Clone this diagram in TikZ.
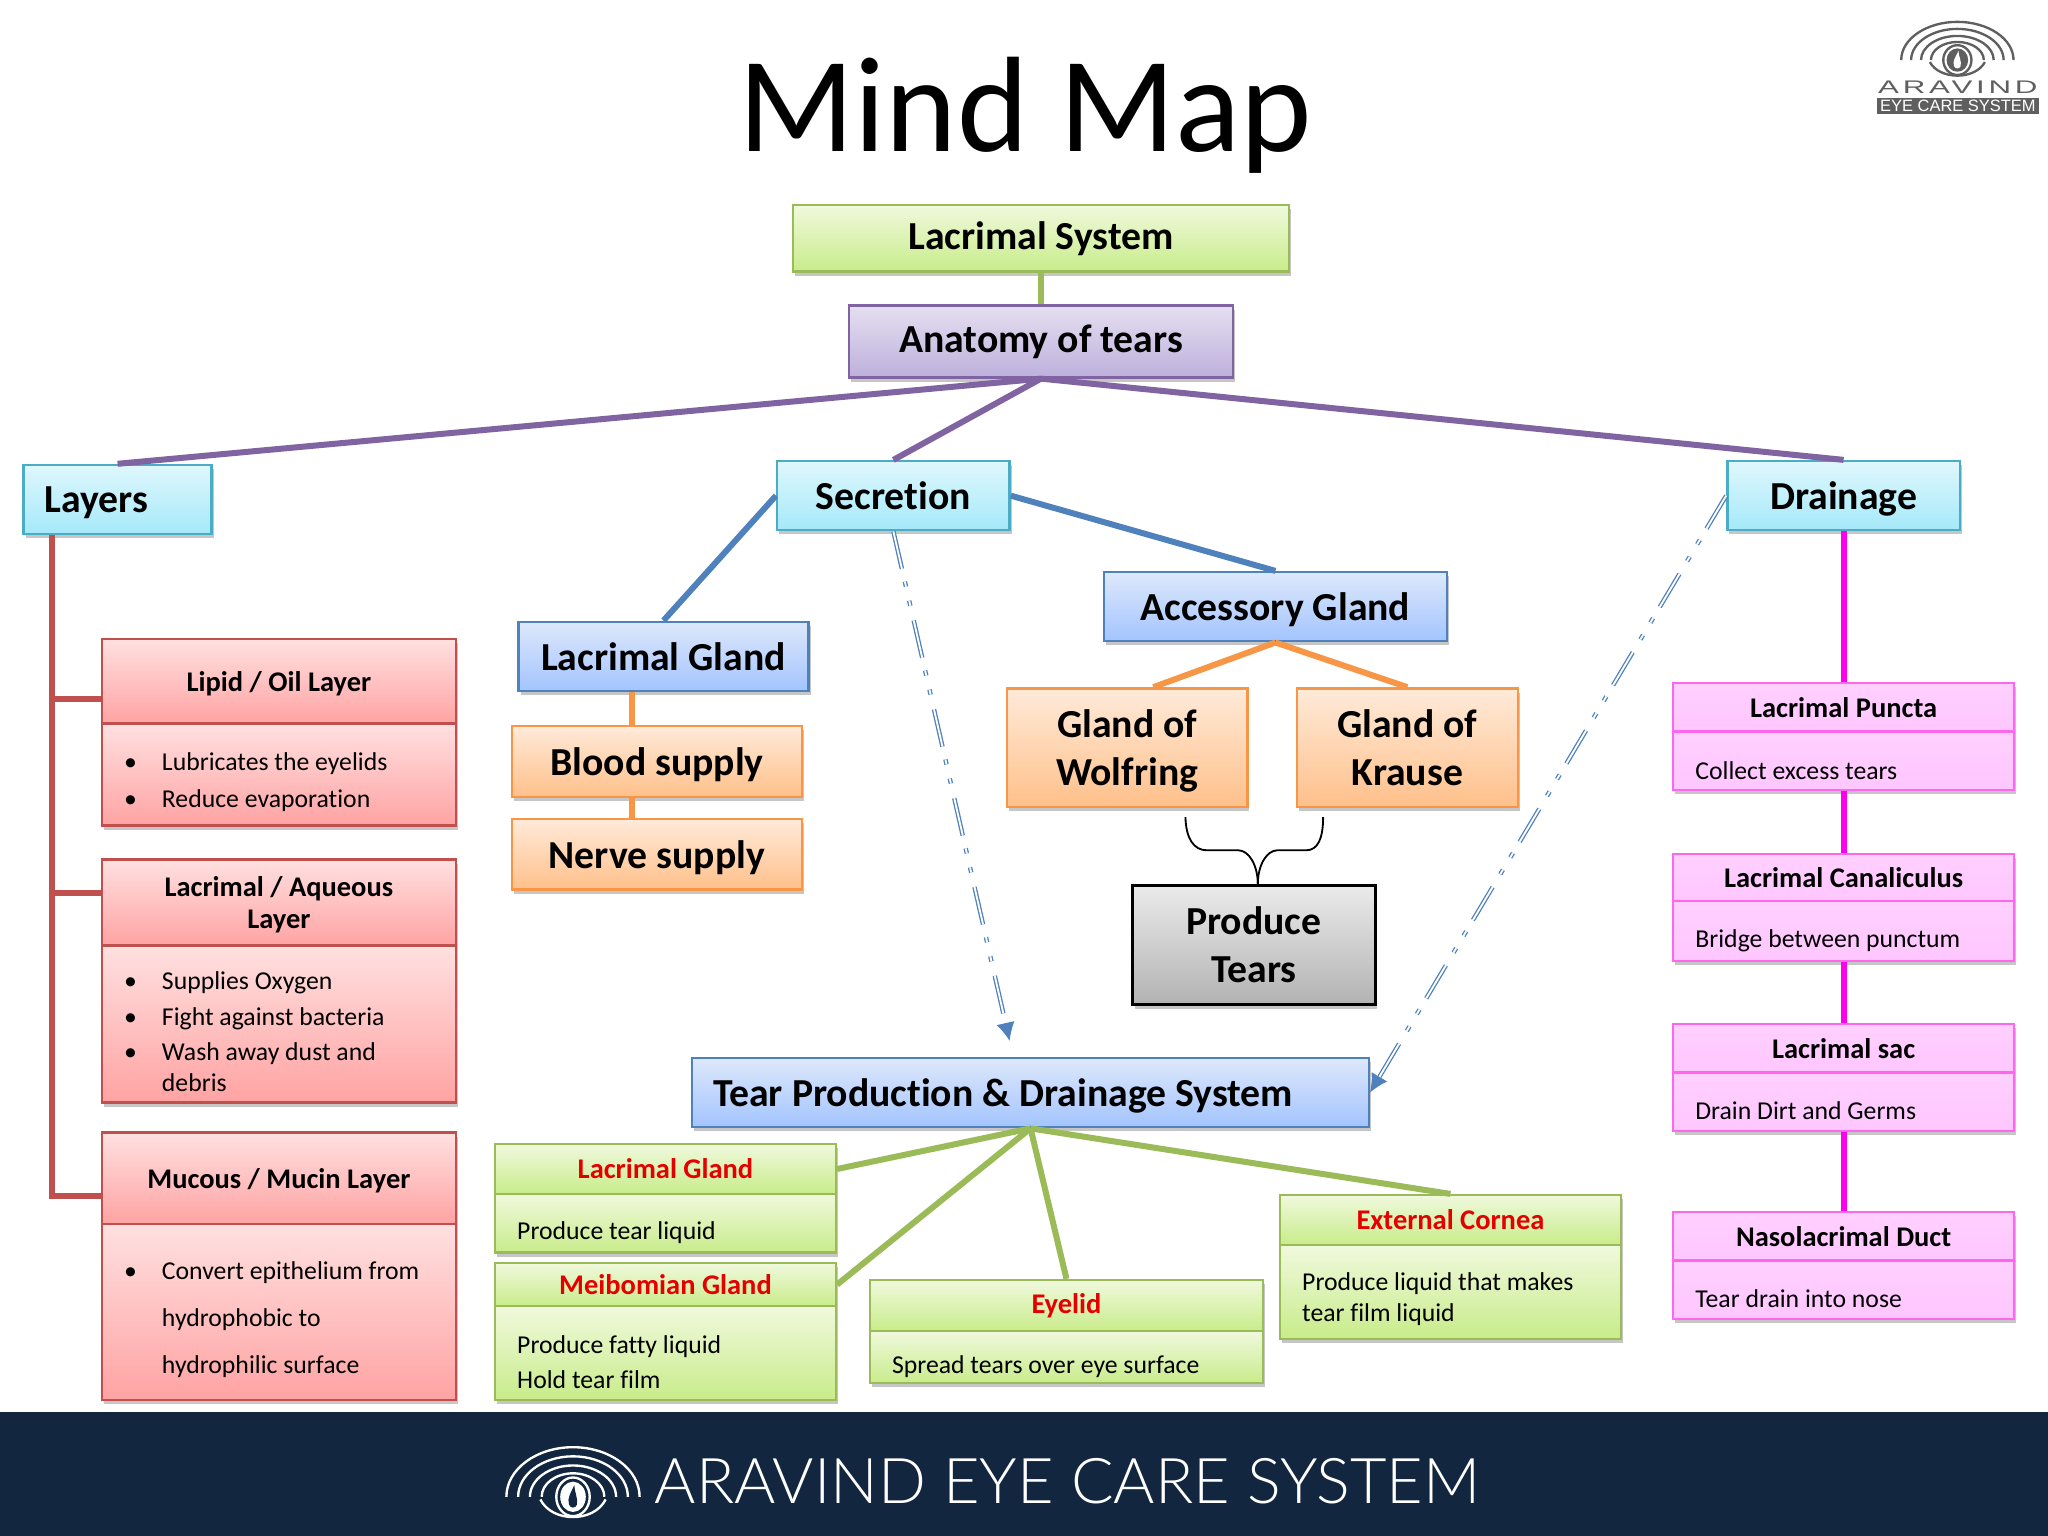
\documentclass[tikz,border=0pt]{standalone}
\usepackage{fontspec}
\setmainfont[RawFeature=-liga]{Carlito}
\newfontfamily\logofont{Liberation Sans}
\newfontfamily\logowide[LetterSpace=12]{Liberation Sans}
\newfontfamily\bannerfont{Lato Light}
\usepackage{graphicx}
\usepackage{tikz}
\usetikzlibrary{arrows.meta, shadows}

\definecolor{navy}{HTML}{13263F}
\definecolor{logogray}{HTML}{5F5F5F}
\definecolor{linegreen}{HTML}{9BBB59}
\definecolor{linepurple}{HTML}{8064A2}
\definecolor{lineblue}{HTML}{4F81BD}
\definecolor{lineorange}{HTML}{F79646}
\definecolor{linered}{HTML}{C0504D}
\definecolor{linepink}{HTML}{FF00EE}
\definecolor{linecyan}{HTML}{4BACC6}
\definecolor{edgepink}{HTML}{FF66EE}

\tikzstyle{boxbase} = [rectangle, draw, line width=.9pt, inner sep=0pt,
    align=center, drop shadow={shadow xshift=.8pt, shadow yshift=-1.6pt, opacity=.45}]
\tikzstyle{bighead} = [boxbase, font=\fontsize{15.2}{18.5}\selectfont\bfseries]
\tikzstyle{smallhead} = [boxbase, font=\fontsize{10.9}{12.2}\selectfont\bfseries]
\tikzstyle{bodytext} = [boxbase, font=\fontsize{9.85}{12}\selectfont, align=flush left, inner xsep=8.5pt]
\tikzstyle{flat} = [text depth=0pt]
\tikzstyle{greenfill} = [draw=linegreen, top color={rgb,255:red,240;green,249;blue,221}, bottom color={rgb,255:red,200;green,236;blue,138}]
\tikzstyle{purplefill} = [draw=linepurple, top color={rgb,255:red,229;green,223;blue,240}, bottom color={rgb,255:red,189;green,176;blue,220}]
\tikzstyle{cyanfill} = [draw=linecyan, top color={rgb,255:red,223;green,247;blue,253}, bottom color={rgb,255:red,165;green,233;blue,250}]
\tikzstyle{bluefill} = [draw=lineblue, top color={rgb,255:red,221;green,232;blue,251}, bottom color={rgb,255:red,163;green,196;blue,255}]
\tikzstyle{orangefill} = [draw=lineorange, top color={rgb,255:red,255;green,234;blue,217}, bottom color={rgb,255:red,255;green,192;blue,138}]
\tikzstyle{grayfill} = [draw=black, top color=black!8, bottom color=black!30]
\tikzstyle{redfill} = [draw=linered, top color={rgb,255:red,255;green,224;blue,224}, bottom color={rgb,255:red,255;green,163;blue,163}]
\tikzstyle{pinkfill} = [draw=edgepink, top color={rgb,255:red,255;green,208;blue,255}, bottom color={rgb,255:red,255;green,198;blue,255}]

\newcommand{\bl}{\makebox[14.5pt][l]{\textbullet}}
\newcommand{\eyemark}[6]{%
  \begin{scope}[shift={(#1,#2)}, xscale=#3, yscale=#4]
    \foreach \rx/\ry in {51/38, 42/31, 33/24, 24/18}
      \draw[#5, line width=.9pt] (-\rx,0) arc[start angle=180, end angle=360, x radius=\rx, y radius=\ry];
    \draw[#5, line width=.9pt] (-25,2) .. controls (-16,20) and (16,20) .. (25,2);
    \draw[#5, line width=.9pt] (0,0) ellipse[x radius=12.8, y radius=14.8];
    \fill[#5] (0,0) ellipse[x radius=9.8, y radius=11.6];
    \fill[#6] (1,-9) .. controls (-1,-4) and (-5,1) .. (-3,6) .. controls (-2,9) and (2,9) .. (3,6) .. controls (4,1) and (1,-4) .. (1,-9);
  \end{scope}}

\begin{document}
\begin{tikzpicture}[
x=.5pt, y=-.5pt,
size/.style 2 args = {minimum width=#1*.5pt, minimum height=#2*.5pt},
link/.style = {line width=2.3pt},
flowline/.style = {lineblue, line width=.5pt, double=white, double distance=.7pt,
    dash pattern=on 14.7pt off 5pt on 2pt off 5.5pt on 2pt off 5.7pt,
    -{Latex[length=7pt, width=7pt]}},
                        ]
\useasboundingbox (0,0) rectangle (1568,1176);

% title and logo
\node (title) at (785,88) {\fontsize{52}{60}\selectfont Mind Map};
\eyemark{1498.6}{46}{.843}{.77}{logogray}{white}
\node (logoname) at (1499,67) {\textcolor{logogray}{\resizebox{61pt}{4.8pt}{\logowide ARAVIND}}};
\node[fill=logogray, minimum width=62pt, minimum height=6pt, inner sep=0pt] (logobar) at (1499,81)
    {\logofont\fontsize{6.3}{6.5}\selectfont\color{white}EYE CARE SYSTEM};

% footer
\fill[navy] (0,1081) rectangle (1568,1176);
\eyemark{438.7}{1146}{1}{1}{white}{navy}
\node[anchor=west, inner sep=0pt] (footertext) at (501,1134)
    {\color{white}\resizebox{316pt}{!}{\bannerfont\fontsize{25.6}{30}\selectfont ARAVIND EYE CARE SYSTEM}};

% top
\node[bighead, greenfill, size={380}{51}] (system) at (797,182.5) {Lacrimal System};
\node[bighead, purplefill, size={294}{55}] (anatomy) at (797,261.5) {Anatomy of tears};

% level 2
\node[bighead, flat, cyanfill, size={144}{53}, text width=56pt, inner xsep=8pt, align=flush left] (layers) at (90,382.5) {Layers};
\node[bighead, cyanfill, size={178}{53}] (secretion) at (684,379.5) {Secretion};
\node[bighead, flat, cyanfill, size={178}{53}] (drainage) at (1411.5,379.5) {Drainage};

% secretion side
\node[bighead, bluefill, size={222}{53}] (lacgland) at (508,502.5) {Lacrimal Gland};
\node[bighead, flat, bluefill, size={263}{53}] (accessory) at (976.5,464.5) {Accessory Gland};
\node[bighead, flat, orangefill, size={222}{54}] (blood) at (503,583) {Blood supply};
\node[bighead, flat, orangefill, size={222}{54}] (nerve) at (503,654) {Nerve supply};
\node[bighead, flat, orangefill, size={184}{91}] (wolfring) at (863,572.5) {Gland of\\Wolfring};
\node[bighead, orangefill, size={169}{91}] (krause) at (1077.5,572.5) {Gland of\\Krause};
\node[bighead, grayfill, size={186}{91}] (produce) at (960,723.5) {Produce\\Tears};
\node[bighead, flat, bluefill, size={518}{53}, text width=243pt, inner xsep=8pt, align=flush left] (tear) at (789,836.5) {Tear Production \& Drainage System};

% layers side
\node[smallhead, flat, redfill, size={271}{65}] (lipid) at (213.5,521.5) {Lipid / Oil Layer};
\node[bodytext, redfill, text width=118.5pt, minimum height=39pt] (lipidbody) at (213.5,593)
    {\rule{0pt}{12.5pt}\bl Lubricates the eyelids\\[2pt]\bl Reduce evaporation};
\node[smallhead, flat, redfill, size={271}{66}] (aqueous) at (213.5,691) {Lacrimal / Aqueous\\Layer};
\node[bodytext, redfill, text width=118.5pt, minimum height=60pt] (aqueousbody) at (213.5,784)
    {\rule{0pt}{13pt}\bl Supplies Oxygen\\[1.5pt]\bl Fight against bacteria\\[1.5pt]\bl Wash away dust and\\\hspace*{14.5pt}debris};
\node[smallhead, flat, redfill, size={271}{70}] (mucous) at (213.5,902) {Mucous / Mucin Layer};
\node[bodytext, redfill, text width=118.5pt, minimum height=67.5pt] (mucousbody) at (213.5,1004.5)
    {\rule{0pt}{13pt}\bl Convert epithelium from\\[6pt]\hspace*{14.5pt}hydrophobic to\\[6pt]\hspace*{14.5pt}hydrophilic surface};

% tear production side
\node[smallhead, greenfill, size={261}{38}, text=red!90!black] (glandhead) at (509.5,895) {Lacrimal Gland};
\node[bodytext, greenfill, text width=113.5pt, minimum height=22.5pt] (glandbody) at (509.5,936.5) {\rule{0pt}{14pt}Produce tear liquid};
\node[smallhead, greenfill, size={261}{33}, text=red!90!black] (meibomian) at (509.5,983.5) {Meibomian Gland};
\node[bodytext, greenfill, text width=113.5pt, minimum height=36pt] (meibomianbody) at (509.5,1036) {\rule{0pt}{14pt}Produce fatty liquid\\[1.5pt]Hold tear film};
\node[smallhead, greenfill, size={301}{39}, text=red!90!black] (eyelid) at (816.5,999.5) {Eyelid};
\node[bodytext, greenfill, text width=133.5pt, minimum height=20pt] (eyelidbody) at (816.5,1039) {\rule{0pt}{14pt}Spread tears over eye surface};
\node[smallhead, greenfill, size={261}{38}, text=red!90!black] (cornea) at (1110.5,934) {External Cornea};
\node[bodytext, greenfill, text width=113.5pt, minimum height=36pt] (corneabody) at (1110.5,989) {\rule{0pt}{12.5pt}Produce liquid that makes\\tear film liquid};

% drainage side
\node[smallhead, pinkfill, size={261}{37}] (puncta) at (1411.5,541.5) {Lacrimal Puncta};
\node[bodytext, pinkfill, text width=113.5pt, minimum height=22.5pt] (punctabody) at (1411.5,582.5) {\rule{0pt}{14pt}Collect excess tears};
\node[smallhead, pinkfill, size={261}{36}] (canal) at (1411.5,672) {Lacrimal Canaliculus};
\node[bodytext, pinkfill, text width=113.5pt, minimum height=23pt] (canalbody) at (1411.5,713) {\rule{0pt}{14pt}Bridge between punctum};
\node[smallhead, pinkfill, size={261}{37}] (sac) at (1411.5,802.5) {Lacrimal sac};
\node[bodytext, pinkfill, text width=113.5pt, minimum height=22.5pt] (sacbody) at (1411.5,843.5) {\rule{0pt}{14pt}Drain Dirt and Germs};
\node[smallhead, pinkfill, size={261}{37}] (naso) at (1411.5,946.5) {Nasolacrimal Duct};
\node[bodytext, pinkfill, text width=113.5pt, minimum height=22.5pt] (nasobody) at (1411.5,987.5) {\rule{0pt}{14pt}Tear drain into nose};

% connectors
\draw[link, linegreen] (system) -- (anatomy);
\draw[link, linepurple] (anatomy.south) -- (layers.north);
\draw[link, linepurple] (anatomy.south) -- (secretion.north);
\draw[link, linepurple] (anatomy.south) -- (drainage.north);
\draw[link, lineblue] (secretion.west) -- (lacgland.north);
\draw[link, lineblue] (secretion.east) -- (accessory.north);
\draw[link, lineorange] ([xshift=-12pt]lacgland.south) -- ([xshift=-9.5pt]blood.north);
\draw[link, lineorange] ([xshift=-9.5pt]blood.south) -- ([xshift=-9.5pt]nerve.north);
\draw[link, lineorange] (accessory.south) -- ([xshift=10pt]wolfring.north);
\draw[link, lineorange] (accessory.south) -- (krause.north);

\draw[link, linered] ([xshift=-25.25pt]layers.south) coordinate (trunk) |- ([yshift=-7pt]mucous.west);
\coordinate (lipidjoin) at ([yshift=-7pt]lipid.west);
\coordinate (aqueousjoin) at ([yshift=3.5pt]aqueous.west);
\draw[link, linered] (trunk |- lipidjoin) -- (lipidjoin);
\draw[link, linered] (trunk |- aqueousjoin) -- (aqueousjoin);

\draw[link, linepink] (drainage) -- (puncta);
\draw[link, linepink] (punctabody) -- (canal);
\draw[link, linepink] (canalbody) -- (sac);
\draw[link, linepink] (sacbody) -- (naso);

\draw[link, linegreen] (tear.south) -- (glandhead.east);
\draw[link, linegreen] (tear.south) -- (meibomian.east);
\draw[link, linegreen] (tear.south) -- (eyelid.north);
\draw[link, linegreen] (tear.south) -- (cornea.north);

\coordinate (flowend) at (773,797);
\draw[flowline] (secretion.south) -- (flowend);
\draw[flowline] (drainage.west) -- (tear.east);

% brace under the two glands
\coordinate (braceleft) at (907.6,625.6);
\coordinate (braceright) at (1013,625.6);
\coordinate (bracejoin) at ([xshift=1.5pt]produce.north);
\draw[line width=.7pt] (braceleft) .. controls (908,642) and (914,651) .. (924,651) -- (948,651)
    .. controls (956,651) and (963,662) .. (bracejoin);
\draw[line width=.7pt] (braceright) .. controls (1013,642) and (1009,651) .. (1000,651) -- (978,651)
    .. controls (970,651) and (963,662) .. (bracejoin);
\end{tikzpicture}
\end{document}
